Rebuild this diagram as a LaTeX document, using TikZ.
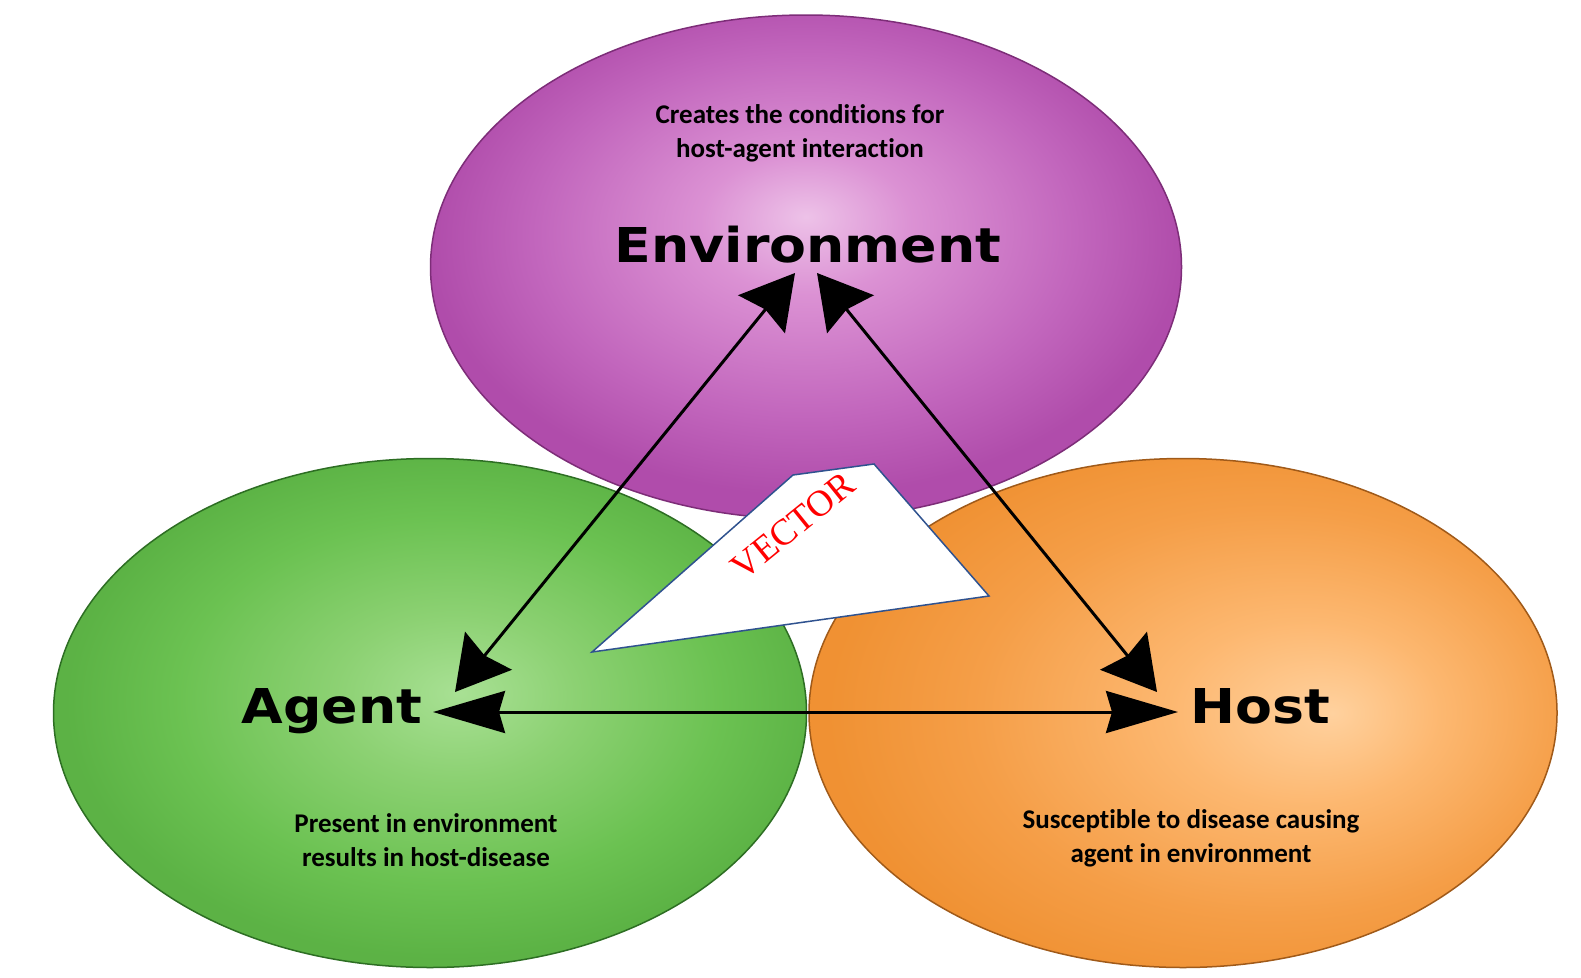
\documentclass[tikz,border=0pt]{standalone}
\usepackage{graphicx}
\usepackage{fontspec}
\setmainfont{Liberation Serif}
\newfontfamily\bigfont{DejaVu Sans}
\newfontfamily\notefont[Ligatures={NoCommon}]{Carlito}
\usetikzlibrary{arrows.meta,shapes.geometric}

\definecolor{envedge}{RGB}{125,45,120}
\definecolor{agentedge}{RGB}{45,110,35}
\definecolor{hostedge}{RGB}{160,90,25}
\definecolor{vecedge}{RGB}{47,82,143}

\pgfdeclareradialshading{envshade}{\pgfpoint{0bp}{5bp}}{rgb(0bp)=(0.93,0.76,0.91); rgb(7bp)=(0.86,0.57,0.83); rgb(18bp)=(0.76,0.40,0.74); rgb(25bp)=(0.69,0.30,0.67); rgb(50bp)=(0.69,0.30,0.67)}
\pgfdeclareradialshading{agentshade}{\pgfpoint{2bp}{2bp}}{rgb(0bp)=(0.66,0.88,0.58); rgb(8bp)=(0.55,0.82,0.45); rgb(18bp)=(0.42,0.76,0.32); rgb(25bp)=(0.36,0.70,0.27); rgb(50bp)=(0.36,0.70,0.27)}
\pgfdeclareradialshading{hostshade}{\pgfpoint{10bp}{0bp}}{rgb(0bp)=(1.0,0.82,0.62); rgb(9bp)=(0.99,0.72,0.44); rgb(20bp)=(0.96,0.62,0.28); rgb(28bp)=(0.94,0.57,0.20); rgb(50bp)=(0.94,0.57,0.20)}

\newcommand{\widetxt}[1]{\scalebox{1.12}[1]{#1}}
\tikzset{blob/.style={ellipse, inner sep=0pt, line width=1.5pt}}
\tikzset{bigword/.style={font=\bigfont\bfseries\fontsize{48}{52}\selectfont, inner sep=0pt, anchor=base}}
\tikzset{note/.style={font=\notefont\bfseries\fontsize{27}{34}\selectfont, align=center, inner sep=0pt}}
\tikzset{diagarr/.style={line width=3pt, {Stealth[length=53pt,width=60pt,inset=6pt]}-{Stealth[length=53pt,width=60pt,inset=6pt]}}}
\tikzset{flatarr/.style={line width=3pt, {Stealth[length=72pt,width=42pt,inset=6pt]}-{Stealth[length=72pt,width=42pt,inset=6pt]}}}

\begin{document}
\begin{tikzpicture}[x=1pt,y=-1pt]
\useasboundingbox[fill=white] (0,0) rectangle (1581,977);

\node[blob, draw=agentedge, shading=agentshade, minimum width=753pt, minimum height=509pt] (agent) at (430,713) {};
\node[blob, draw=hostedge, shading=hostshade, minimum width=748pt, minimum height=509pt] (host) at (1183,713) {};
\node[blob, draw=envedge, shading=envshade, minimum width=751pt, minimum height=504pt] (env) at (806,267) {};

% vector wedge
\draw[vecedge, line width=1.5pt, fill=white] (592,652) -- (793,475) -- (874,464) -- (989,596) -- cycle;
\node[red, font=\fontsize{37}{40}\selectfont, rotate=39, inner sep=0pt] (vec) at (793,526) {VECTOR};

\node[bigword] (envlbl) at (808,262) {\widetxt{Environment}};
\node[bigword] (agentlbl) at (332,723) {\widetxt{Agent}};
\node[bigword] (hostlbl) at (1260,723) {\widetxt{Host}};

\node[note] (envnote) at (800,133) {Creates the conditions for\\host-agent interaction};
\node[note] (agentnote) at (426,840) {Present in environment\\results in host-disease};
\node[note] (hostnote) at (1191,838) {Susceptible to disease causing\\agent in environment};

\coordinate (a1) at (455,692);
\coordinate (e1) at (795,273);
\coordinate (e2) at (817,273);
\coordinate (h1) at (1157,692);
\coordinate (a2) at (433,712);
\coordinate (h2) at (1178,712);

\draw[diagarr] (a1) -- (e1);
\draw[diagarr] (e2) -- (h1);
\draw[flatarr] (a2) -- (h2);
\end{tikzpicture}
\end{document}
